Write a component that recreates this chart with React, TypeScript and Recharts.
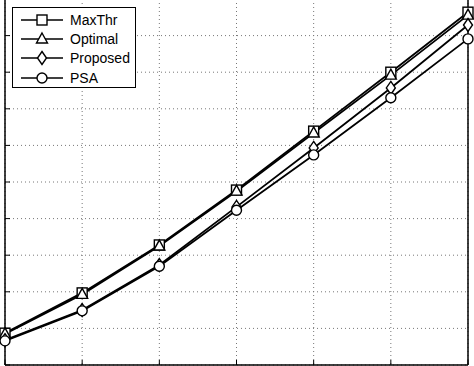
import { LineChart, Line, XAxis, YAxis, CartesianGrid, Legend } from 'recharts';

// x positions (cropped axis, no labels visible)
const xPoints = [0, 1, 2, 3, 4, 5, 6];

// series values (y axis 0..10 grid units)
const maxThr = [0.87, 1.97, 3.28, 4.78, 6.39, 8.0, 9.64];
const optimal = [0.85, 1.93, 3.25, 4.75, 6.34, 7.92, 9.56];
const proposed = [0.68, 1.5, 2.73, 4.32, 5.93, 7.57, 9.29];
const psa = [0.66, 1.48, 2.7, 4.23, 5.74, 7.3, 8.91];

const seriesNames = ['MaxThr', 'Optimal', 'Proposed', 'PSA'];
const markerShapes = ['square', 'triangle', 'diamond', 'circle'];
const seriesValues = [maxThr, optimal, proposed, psa];

const xTicks = [0, 1, 2, 3, 4, 5, 6];
const yTicks = [0, 1, 2, 3, 4, 5, 6, 7, 8, 9, 10];

const data = xPoints.map((x, i) => {
  const row: any = { x };
  seriesNames.forEach((name, s) => {
    row[name] = seriesValues[s][i];
  });
  return row;
});

const Marker = ({ cx, cy, shape }: { cx: number; cy: number; shape: string }) => {
  const common = { fill: '#fff', stroke: '#000', strokeWidth: 1.4 };
  if (shape === 'square') return <rect x={cx - 5} y={cy - 5} width={10} height={10} {...common} />;
  if (shape === 'triangle')
    return <polygon points={`${cx},${cy - 6} ${cx + 5.5},${cy + 4} ${cx - 5.5},${cy + 4}`} {...common} />;
  if (shape === 'diamond')
    return <polygon points={`${cx},${cy - 6.5} ${cx + 4.5},${cy} ${cx},${cy + 6.5} ${cx - 4.5},${cy}`} {...common} />;
  return <circle cx={cx} cy={cy} r={5} {...common} />;
};

const renderLegend = () => (
  <div
    style={{
      background: '#fff',
      border: '1px solid #000',
      width: 124,
      height: 81,
      boxSizing: 'border-box',
      paddingTop: 2,
      textAlign: 'left',
    }}
  >
    {seriesNames.map((name, i) => (
      <div key={name} style={{ display: 'flex', alignItems: 'center', height: 19.3 }}>
        <svg width={48} height={16} style={{ marginLeft: 8, flex: 'none' }}>
          <line x1={0} y1={8} x2={42} y2={8} stroke="#000" strokeWidth={1.6} />
          <Marker cx={21} cy={8} shape={markerShapes[i]} />
        </svg>
        <span style={{ fontSize: 14, color: '#000', marginLeft: 1, whiteSpace: 'nowrap' }}>{name}</span>
      </div>
    ))}
  </div>
);

const LeftTick = ({ x, y }: any) => <line x1={x} y1={y} x2={x + 5} y2={y} stroke="#000" />;
const RightTick = ({ x, y }: any) => <line x1={x - 5} y1={y} x2={x} y2={y} stroke="#000" />;
const BottomTick = ({ x, y }: any) => <line x1={x} y1={y} x2={x} y2={y - 5} stroke="#000" />;

const App = () => {
  return (
    <div
      style={{
        position: 'absolute',
        left: 0,
        top: 0,
        width: 474,
        height: 366,
        background: '#fff',
        fontFamily: '"Liberation Sans", Arial, sans-serif',
      }}
    >
      <LineChart width={474} height={366} data={data} margin={{ top: -1, right: 0, bottom: 0, left: 0 }}>
        <CartesianGrid stroke="#777" strokeDasharray="1 3" />
        <XAxis
          dataKey="x"
          type="number"
          domain={[0, 6]}
          ticks={xTicks}
          interval={0}
          height={1}
          tickLine={false}
          tickSize={0}
          tickMargin={0}
          axisLine={{ stroke: '#000', strokeWidth: 1.5 }}
          tick={<BottomTick />}
        />
        <YAxis
          type="number"
          domain={[0, 10]}
          ticks={yTicks}
          interval={0}
          width={5}
          tickLine={false}
          tickSize={0}
          tickMargin={0}
          axisLine={{ stroke: '#000', strokeWidth: 1.5 }}
          tick={<LeftTick />}
        />
        <YAxis
          yAxisId="r"
          orientation="right"
          type="number"
          domain={[0, 10]}
          ticks={yTicks}
          interval={0}
          width={6}
          tickLine={false}
          tickSize={0}
          tickMargin={0}
          axisLine={{ stroke: '#000', strokeWidth: 1.5 }}
          tick={<RightTick />}
        />
        {seriesNames.map((name, i) => (
          <Line
            key={name}
            dataKey={name}
            stroke="#000"
            strokeWidth={1.8}
            isAnimationActive={false}
            dot={(p: any) => <Marker key={`${name}-${p.index}`} cx={p.cx} cy={p.cy} shape={markerShapes[i]} />}
          />
        ))}
        <Legend
          content={renderLegend}
          layout="vertical"
          wrapperStyle={{ position: 'absolute', left: 12, top: 7, width: 0, height: 0, overflow: 'visible' }}
        />
      </LineChart>
    </div>
  );
};

export default App;
